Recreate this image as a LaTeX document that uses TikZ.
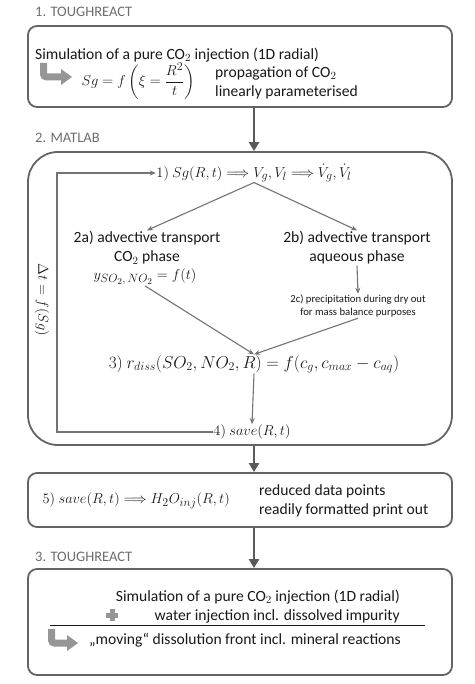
\documentclass[tikz,border=0pt]{standalone}
\usepackage{fontspec}
\usepackage{amsmath}
\setmainfont{Carlito}
\DeclareMathSizes{15}{15}{11.5}{9}
\DeclareMathSizes{16.5}{16.5}{12.5}{10}
\usetikzlibrary{arrows.meta,calc}
\definecolor{boxgray}{RGB}{100,100,100}
\definecolor{arrgray}{RGB}{90,90,90}
\definecolor{lightarr}{RGB}{115,115,115}
\definecolor{headgray}{RGB}{110,110,110}
\definecolor{txtc}{RGB}{25,25,25}
\definecolor{icongray}{RGB}{150,150,150}
\begin{document}
\begin{tikzpicture}[x=1pt,y=-1pt,
  box/.style={draw=boxgray, line width=1.8pt, rounded corners=9pt, minimum width=424pt, inner sep=0pt},
  bigarr/.style={draw=arrgray, line width=2.6pt, -{Triangle[length=9pt,width=10pt]}},
  arr/.style={draw=lightarr, line width=1.1pt, -{Stealth[length=6pt,width=5pt]}},
  head/.style={text=headgray, font=\fontsize{14.5}{16}\selectfont, anchor=west, inner sep=0pt},
  txt/.style={text=txtc, font=\fontsize{15.6}{19}\selectfont, inner sep=1pt},
  mth/.style={text=txtc, font=\fontsize{15}{18}\selectfont, inner sep=0.5pt},
  bigmth/.style={text=txtc, font=\fontsize{16.5}{19}\selectfont, inner sep=0.5pt},
  small/.style={text=txtc, font=\fontsize{10.7}{12.5}\selectfont, inner sep=1pt, align=center},
  icon/.style={draw=icongray, line width=7pt},
  iconhead/.style={fill=icongray, draw=none}
]
\useasboundingbox (0,0) rectangle (474,684);
\fill[white] (0,0) rectangle (474,684);
\coordinate (ax) at (254,0);
\coordinate (lx) at (57,0);

% ---------- section 1
\node[head] (h1) at (35,12) {1. TOUGHREACT};
\node[box, minimum height=81pt] (b1) at (240,66.5) {};
\node[txt, anchor=west] (t1) at (34,55) {Simulation of a pure CO$_2$ injection (1D radial)};
\draw[icon, rounded corners=3pt] (43.5,63) -- (43.5,77) -- (62,77);
\fill[iconhead] (61,69) -- (72,77) -- (61,85) -- cycle;
\node[mth, anchor=west] (f1) at (81,81) {$\displaystyle Sg = f\left(\xi = \frac{R^2}{t}\right)$};
\node[txt, anchor=west, align=left] (p1) at (214,83) {propagation of CO$_2$\\linearly parameterised};

% ---------- section 2
\node[head] (h2) at (35,138) {2. MATLAB};
\node[box, rounded corners=30pt, minimum height=293pt] (b2) at (240,298.5) {};
\draw[bigarr] (b1.south -| ax) -- (b2.north -| ax);

\node[mth] (e1) at (254,173) {$1)\ Sg(R,t) \Longrightarrow V_g, V_l \Longrightarrow \dot V_g, \dot V_l$};
\node[txt, align=center] (n2a) at (147,248) {2a) advective transport\\CO$_2$ phase};
\node[mth] (ny) at (145,277) {$y_{SO_2,\,NO_2} = f(t)$};
\node[txt, align=center] (n2b) at (357,248) {2b) advective transport\\aqueous phase};
\node[small] (n2c) at (358,306) {2c) precipitation during dry out\\for mass balance purposes};
\node[bigmth] (e3) at (254,364) {$3)\ r_{diss}(SO_2,NO_2,R) = f(c_g, c_{max} - c_{aq})$};
\node[mth] (e4) at (252,432) {$4)\ save(R,t)$};
\node[mth, rotate=-90] (dt) at (42,300) {$\Delta t = f(Sg)$};

\draw[arr] (e1.south) -- (n2a.north);
\draw[arr] (e1.south) -- (n2b.north);
\draw[arr] (n2b.south) -- (n2c.north);
\draw[arr] (ny.south) -- (e3.north);
\draw[arr] (n2c.south) -- (e3.north);
\draw[arr] (e3.south) -- (e4.north);
\draw[arr] (e4.west) -| (lx |- e1.west) -- (e1.west);

% ---------- box 5
\node[box, minimum height=54pt] (b5) at (240,500) {};
\draw[bigarr] (b2.south -| ax) -- (b5.north -| ax);
\node[mth, anchor=west] (e5) at (42,501) {$5)\ save(R,t) \Longrightarrow H_2O_{inj}(R,t)$};
\node[txt, anchor=west, align=left] (r5) at (258,501) {reduced data points\\readily formatted print out};

% ---------- section 3
\node[head] (h3) at (35,557) {3. TOUGHREACT};
\node[box, minimum height=106pt] (b3) at (240,622) {};
\draw[bigarr] (b5.south -| ax) -- (b3.north -| ax);
\node[txt, anchor=east] (s3a) at (401,597) {Simulation of a pure CO$_2$ injection (1D radial)};
\node[txt, anchor=east] (s3b) at (401,616) {water injection incl. dissolved impurity};
\draw[draw=icongray, line width=5pt] (106,615) -- (118,615) (112,609) -- (112,621);
\draw[line width=1pt, txtc] (50,625) -- (425,625);
\draw[icon, rounded corners=3pt] (51.5,629) -- (51.5,643) -- (68,643);
\fill[iconhead] (67,635) -- (78,643) -- (67,651) -- cycle;
\node[txt, anchor=west] (m3) at (88,640) {„moving“ dissolution front incl. mineral reactions};
\end{tikzpicture}
\end{document}
